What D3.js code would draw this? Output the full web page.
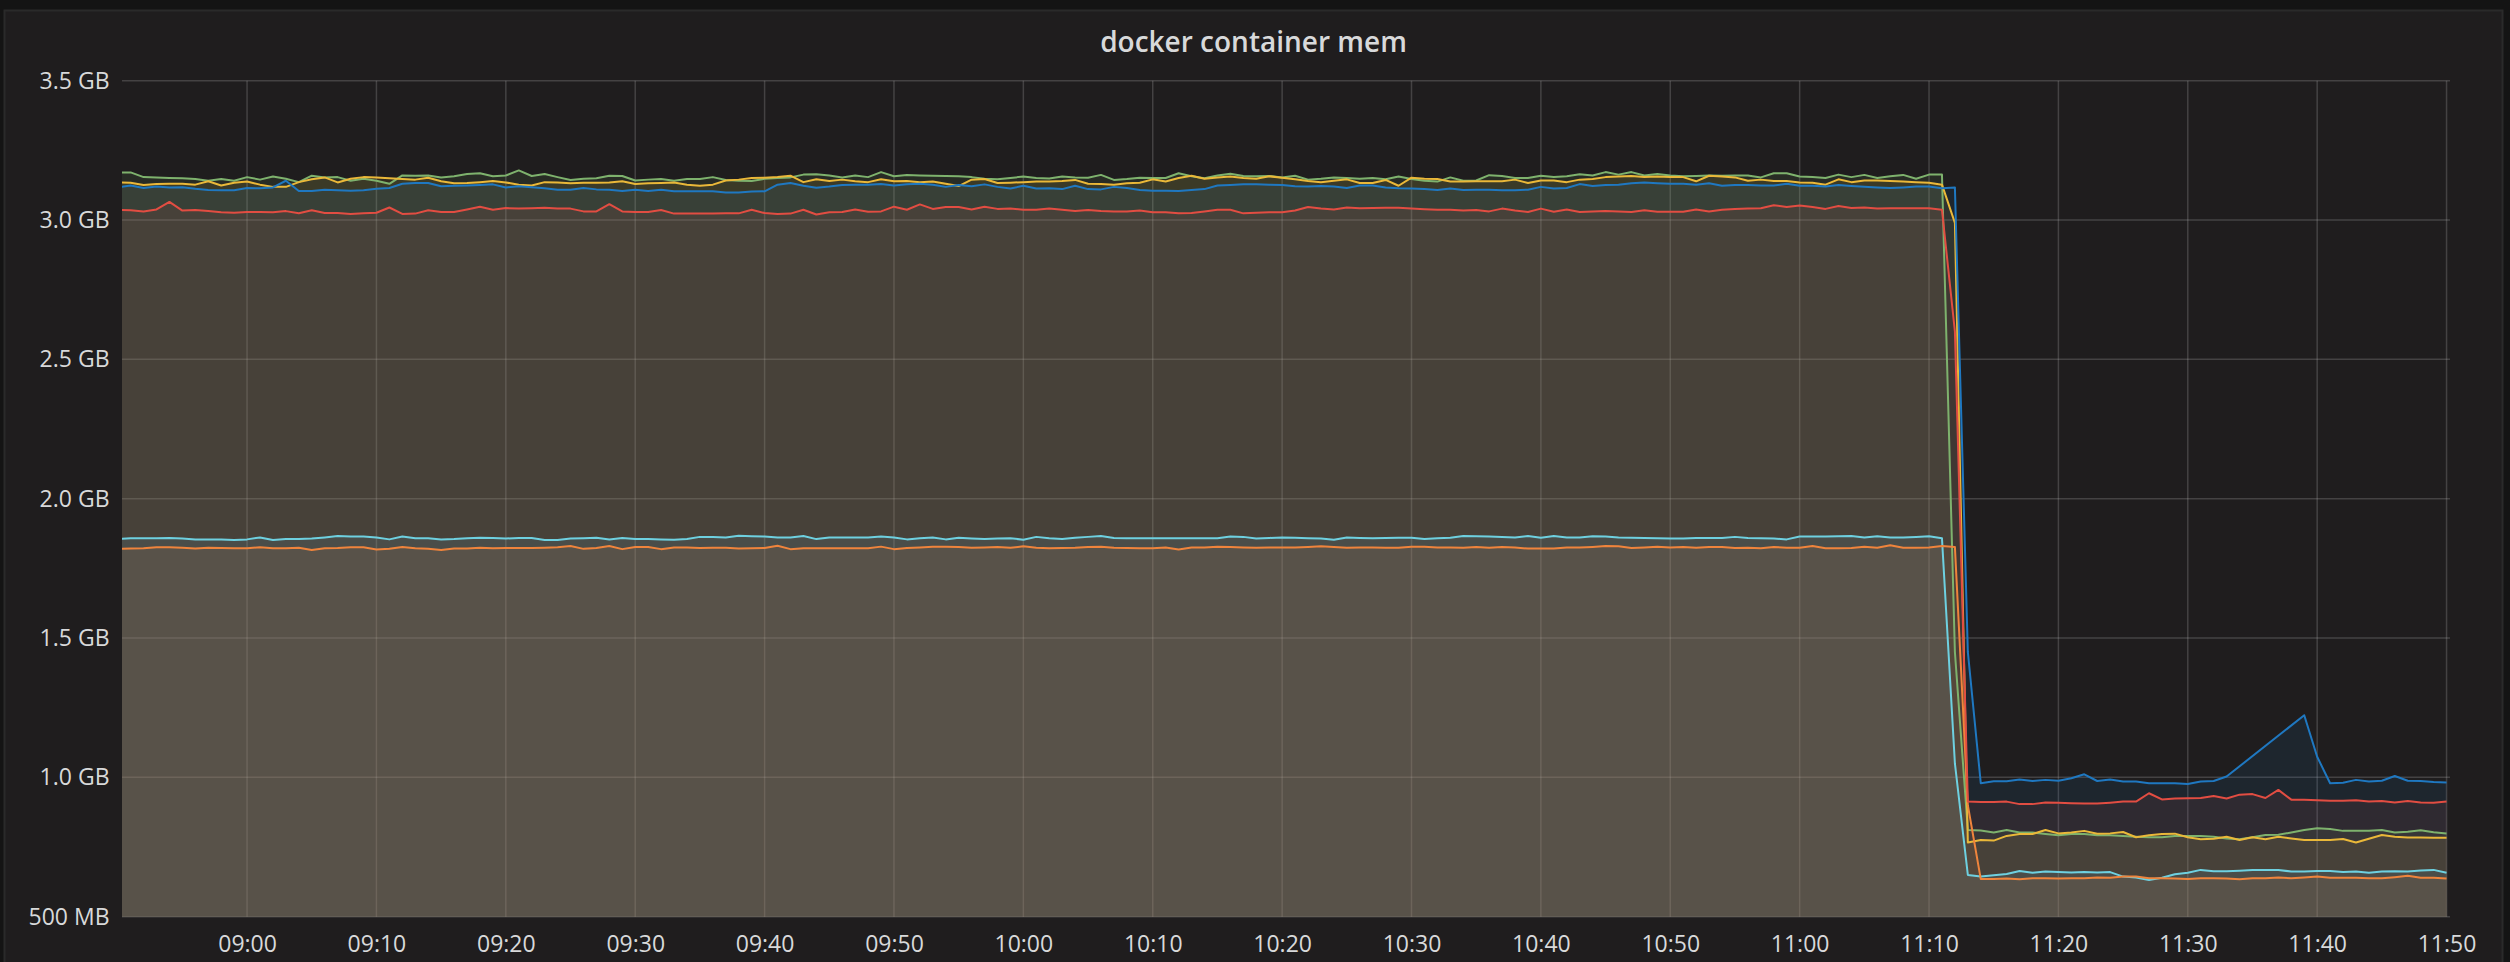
<!DOCTYPE html>
<html>
<head>
<meta charset="utf-8">
<script src="https://cdn.jsdelivr.net/npm/d3@7"></script>
<style>
  html, body { margin: 0; padding: 0; background: #141414; overflow: hidden; }
  svg { display: block; }
</style>
</head>
<body>
<svg id="chart" width="2510" height="962"></svg>
<script>
// ---------------- DATA (GB, one sample per minute from 08:50 to 11:50) ----------------
const chartTitle = "docker container mem";
const firstSample = "08:50";
const sampleStepMinutes = 1;
const viewStart = "08:50:20";
const viewEnd = "11:50:16";

const seriesNames = ["container-1", "container-2", "container-3", "container-4", "container-5", "container-6"];
const seriesColors = ["#7EB26D", "#EAB839", "#6ED0E0", "#EF843C", "#E24D42", "#1F78C1"];

const greenMem = [
  3.171, 3.171, 3.154, 3.153, 3.151, 3.150, 3.147, 3.141, 3.147, 3.141,
  3.154, 3.145, 3.156, 3.148, 3.136, 3.159, 3.153, 3.154, 3.141, 3.148,
  3.141, 3.130, 3.160, 3.159, 3.160, 3.153, 3.157, 3.165, 3.168, 3.157,
  3.160, 3.178, 3.158, 3.165, 3.154, 3.144, 3.148, 3.150,
  3.159, 3.158, 3.142, 3.145, 3.147, 3.141, 3.147, 3.147, 3.154, 3.144,
  3.141, 3.140, 3.148, 3.151, 3.153, 3.163, 3.164, 3.160, 3.153, 3.160,
  3.154, 3.172, 3.157, 3.162, 3.160, 3.159, 3.158, 3.157, 3.154, 3.148,
  3.146, 3.151, 3.156, 3.151, 3.149,
  3.156, 3.153, 3.152, 3.162, 3.144, 3.147, 3.152, 3.151, 3.151, 3.168,
  3.157, 3.150, 3.160, 3.166, 3.158, 3.157, 3.158, 3.153, 3.159, 3.145,
  3.148, 3.153, 3.151, 3.148, 3.151, 3.146, 3.156, 3.147, 3.141, 3.138,
  3.153, 3.141, 3.142, 3.161, 3.158,
  3.151, 3.151, 3.159, 3.154, 3.157, 3.164, 3.160, 3.172, 3.163, 3.172,
  3.160, 3.165, 3.160, 3.157, 3.158, 3.160, 3.159, 3.160, 3.160, 3.153,
  3.168, 3.168, 3.156, 3.154, 3.151, 3.163, 3.154, 3.162, 3.151, 3.157,
  3.162, 3.148, 3.163, 3.163,
  1.45,
  0.811, 0.809, 0.802, 0.811, 0.802, 0.802, 0.797, 0.792, 0.797, 0.797,
  0.792, 0.792, 0.790, 0.787, 0.785, 0.785, 0.790, 0.790, 0.790, 0.787,
  0.781, 0.778, 0.785, 0.793, 0.794, 0.802, 0.811, 0.817, 0.815, 0.808,
  0.808, 0.808, 0.811, 0.802, 0.805, 0.810, 0.803, 0.799
];

const yellowMem = [
  3.135, 3.134, 3.126, 3.129, 3.130, 3.130, 3.127, 3.139, 3.124, 3.134,
  3.138, 3.127, 3.119, 3.119, 3.136, 3.146, 3.153, 3.135, 3.148, 3.154,
  3.153, 3.150, 3.147, 3.145, 3.152, 3.139, 3.132, 3.133, 3.136, 3.140,
  3.135, 3.127, 3.124, 3.136, 3.135, 3.132, 3.134, 3.134,
  3.135, 3.139, 3.129, 3.132, 3.133, 3.135, 3.127, 3.123, 3.127, 3.142,
  3.145, 3.151, 3.152, 3.154, 3.159, 3.136, 3.146, 3.140, 3.145, 3.139,
  3.136, 3.146, 3.139, 3.140, 3.136, 3.138, 3.130, 3.122, 3.145, 3.147,
  3.133, 3.134, 3.136, 3.138, 3.138,
  3.140, 3.144, 3.130, 3.129, 3.127, 3.132, 3.134, 3.146, 3.138, 3.151,
  3.159, 3.148, 3.153, 3.156, 3.151, 3.148, 3.157, 3.152, 3.146, 3.140,
  3.136, 3.141, 3.146, 3.133, 3.133, 3.144, 3.123, 3.152, 3.148, 3.147,
  3.138, 3.138, 3.139, 3.139, 3.139,
  3.145, 3.133, 3.142, 3.142, 3.136, 3.145, 3.147, 3.154, 3.156, 3.158,
  3.154, 3.156, 3.154, 3.154, 3.139, 3.159, 3.156, 3.153, 3.141, 3.145,
  3.140, 3.140, 3.135, 3.134, 3.127, 3.146, 3.136, 3.142, 3.142, 3.140,
  3.138, 3.136, 3.134, 3.127,
  2.99,
  0.766, 0.775, 0.773, 0.790, 0.797, 0.797, 0.811, 0.799, 0.802, 0.808,
  0.798, 0.799, 0.804, 0.785, 0.792, 0.797, 0.798, 0.785, 0.778, 0.780,
  0.787, 0.775, 0.785, 0.778, 0.787, 0.781, 0.775, 0.775, 0.775, 0.779,
  0.766, 0.780, 0.793, 0.787, 0.784, 0.784, 0.783, 0.783
];

const cyanMem = [
  1.855, 1.858, 1.858, 1.858, 1.859, 1.857, 1.854, 1.854, 1.854, 1.852,
  1.854, 1.861, 1.852, 1.855, 1.855, 1.857, 1.861, 1.866, 1.864, 1.864,
  1.861, 1.854, 1.864, 1.858, 1.858, 1.854, 1.855, 1.858, 1.860, 1.859,
  1.857, 1.859, 1.859, 1.852, 1.852, 1.857, 1.858, 1.860,
  1.854, 1.859, 1.855, 1.855, 1.854, 1.853, 1.855, 1.863, 1.863, 1.861,
  1.867, 1.865, 1.864, 1.861, 1.861, 1.866, 1.855, 1.861, 1.861, 1.861,
  1.861, 1.864, 1.861, 1.854, 1.858, 1.861, 1.854, 1.860, 1.857, 1.855,
  1.857, 1.858, 1.853, 1.863, 1.858, 1.855, 1.860, 1.863, 1.866, 1.859,
  1.858, 1.858, 1.858, 1.858, 1.858, 1.858, 1.858, 1.858, 1.864, 1.863,
  1.857, 1.859,
  1.861, 1.860, 1.858, 1.857, 1.853, 1.861, 1.859, 1.858, 1.859, 1.860,
  1.860, 1.855, 1.858, 1.860, 1.866, 1.865, 1.864, 1.863, 1.861, 1.866,
  1.860, 1.866, 1.861, 1.861, 1.865, 1.864, 1.861, 1.860, 1.859, 1.858,
  1.857, 1.857, 1.859, 1.859, 1.859, 1.863, 1.859, 1.858, 1.857, 1.854,
  1.864, 1.864, 1.864, 1.865, 1.866, 1.861, 1.865, 1.861, 1.861, 1.863,
  1.865, 1.858,
  1.05,
  0.650, 0.644, 0.649, 0.653, 0.664, 0.658, 0.662, 0.660, 0.659, 0.660,
  0.659, 0.660, 0.644, 0.641, 0.632, 0.640, 0.652, 0.658, 0.668, 0.663,
  0.663, 0.665, 0.668, 0.668, 0.668, 0.662, 0.662, 0.664, 0.664, 0.660,
  0.662, 0.658, 0.662, 0.663, 0.662, 0.666, 0.668, 0.658
];

const orangeMem = [
  1.820, 1.821, 1.822, 1.826, 1.826, 1.824, 1.821, 1.824, 1.823, 1.822,
  1.822, 1.826, 1.822, 1.822, 1.824, 1.816, 1.822, 1.823, 1.826, 1.826,
  1.818, 1.820, 1.827, 1.822, 1.820, 1.816, 1.821, 1.821, 1.824, 1.822,
  1.823, 1.823, 1.823, 1.824, 1.826, 1.830, 1.820, 1.823,
  1.830, 1.819, 1.827, 1.827, 1.819, 1.825, 1.825, 1.823, 1.824, 1.824,
  1.821, 1.822, 1.823, 1.831, 1.819, 1.822, 1.822, 1.822, 1.822, 1.822,
  1.822, 1.828, 1.819, 1.823, 1.825, 1.828, 1.828, 1.827, 1.824, 1.825,
  1.827, 1.824, 1.829, 1.824, 1.822, 1.823, 1.824, 1.827, 1.828, 1.824,
  1.823, 1.822, 1.822, 1.825, 1.818, 1.825, 1.825, 1.828, 1.827, 1.825,
  1.824, 1.825,
  1.825, 1.825, 1.827, 1.829, 1.827, 1.824, 1.825, 1.825, 1.824, 1.824,
  1.828, 1.828, 1.825, 1.825, 1.824, 1.827, 1.824, 1.827, 1.825, 1.821,
  1.821, 1.821, 1.825, 1.825, 1.827, 1.830, 1.829, 1.823, 1.825, 1.828,
  1.825, 1.827, 1.824, 1.827, 1.827, 1.823, 1.824, 1.822, 1.827, 1.824,
  1.824, 1.830, 1.822, 1.822, 1.823, 1.828, 1.824, 1.833, 1.824, 1.824,
  1.825, 1.830, 1.827,
  0.90,
  0.635, 0.635, 0.637, 0.634, 0.638, 0.638, 0.637, 0.638, 0.638, 0.641,
  0.640, 0.644, 0.644, 0.638, 0.638, 0.637, 0.635, 0.638, 0.638, 0.637,
  0.634, 0.638, 0.638, 0.641, 0.638, 0.641, 0.644, 0.640, 0.640, 0.640,
  0.638, 0.638, 0.642, 0.647, 0.640, 0.640, 0.637
];

const redMem = [
  3.037, 3.035, 3.031, 3.038, 3.065, 3.034, 3.036, 3.032, 3.028, 3.026,
  3.029, 3.029, 3.028, 3.032, 3.024, 3.035, 3.025, 3.025, 3.022, 3.024,
  3.026, 3.045, 3.022, 3.023, 3.035, 3.029, 3.029, 3.038, 3.048, 3.037,
  3.043, 3.041, 3.042, 3.044, 3.041, 3.041, 3.031, 3.031,
  3.057, 3.031, 3.029, 3.029, 3.036, 3.023, 3.023, 3.023, 3.023, 3.024,
  3.024, 3.037, 3.025, 3.022, 3.023, 3.037, 3.020, 3.028, 3.029, 3.038,
  3.030, 3.031, 3.048, 3.037, 3.056, 3.040, 3.047, 3.047, 3.038, 3.048,
  3.040, 3.041, 3.037, 3.037, 3.041,
  3.037, 3.032, 3.036, 3.032, 3.031, 3.031, 3.034, 3.028, 3.028, 3.024,
  3.025, 3.031, 3.037, 3.037, 3.024, 3.026, 3.028, 3.028, 3.034, 3.047,
  3.041, 3.038, 3.045, 3.042, 3.043, 3.044, 3.044, 3.041, 3.039, 3.037,
  3.037, 3.034, 3.036, 3.031, 3.041,
  3.034, 3.029, 3.041, 3.030, 3.038, 3.029, 3.031, 3.032, 3.031, 3.029,
  3.035, 3.030, 3.030, 3.030, 3.038, 3.031, 3.037, 3.040, 3.041, 3.042,
  3.053, 3.047, 3.052, 3.047, 3.040, 3.050, 3.043, 3.045, 3.041, 3.042,
  3.042, 3.042, 3.042, 3.037,
  2.60,
  0.913, 0.912, 0.912, 0.913, 0.904, 0.904, 0.910, 0.909, 0.907, 0.906,
  0.906, 0.909, 0.913, 0.913, 0.943, 0.921, 0.924, 0.925, 0.926, 0.933,
  0.924, 0.938, 0.940, 0.926, 0.955, 0.920, 0.920, 0.918, 0.916, 0.916,
  0.918, 0.913, 0.915, 0.910, 0.915, 0.910, 0.909, 0.913
];

const blueMem = [
  3.117, 3.124, 3.115, 3.120, 3.117, 3.118, 3.112, 3.108, 3.107, 3.107,
  3.115, 3.114, 3.117, 3.141, 3.104, 3.104, 3.109, 3.107, 3.105, 3.107,
  3.112, 3.115, 3.130, 3.133, 3.133, 3.121, 3.123, 3.124, 3.126, 3.128,
  3.117, 3.121, 3.118, 3.114, 3.109, 3.109, 3.115, 3.110,
  3.109, 3.104, 3.109, 3.104, 3.109, 3.103, 3.103, 3.103, 3.103, 3.099,
  3.099, 3.102, 3.103, 3.127, 3.133, 3.123, 3.116, 3.120, 3.126, 3.127,
  3.127, 3.129, 3.124, 3.128, 3.130, 3.127, 3.119, 3.126, 3.121, 3.128,
  3.119, 3.113, 3.123, 3.113, 3.114,
  3.111, 3.123, 3.111, 3.110, 3.119, 3.115, 3.108, 3.105, 3.105, 3.104,
  3.108, 3.111, 3.124, 3.126, 3.128, 3.128, 3.127, 3.126, 3.121, 3.120,
  3.122, 3.120, 3.115, 3.124, 3.124, 3.117, 3.114, 3.113, 3.111, 3.108,
  3.113, 3.108, 3.109, 3.109, 3.107,
  3.107, 3.109, 3.119, 3.113, 3.115, 3.129, 3.122, 3.126, 3.127, 3.132,
  3.135, 3.132, 3.130, 3.130, 3.127, 3.132, 3.123, 3.126, 3.126, 3.124,
  3.124, 3.130, 3.123, 3.123, 3.120, 3.126, 3.122, 3.119, 3.117, 3.115,
  3.117, 3.120, 3.120, 3.114, 3.117,
  1.45,
  0.979, 0.986, 0.986, 0.992, 0.987, 0.991, 0.988, 0.997, 1.011, 0.987,
  0.992, 0.985, 0.985, 0.979, 0.979, 0.979, 0.976, 0.985, 0.987, 1.003,
  null, null, null, null, null, 1.223, 1.074, 0.979, 0.981, 0.991,
  0.985, 0.988, 1.005, 0.988, 0.987, 0.983, 0.982
];

const yTickValues = [0.5, 1.0, 1.5, 2.0, 2.5, 3.0, 3.5];
const yTickLabels = ["500 MB", "1.0 GB", "1.5 GB", "2.0 GB", "2.5 GB", "3.0 GB", "3.5 GB"];
const xTickLabels = ["09:00", "09:10", "09:20", "09:30", "09:40", "09:50", "10:00", "10:10", "10:20",
                     "10:30", "10:40", "10:50", "11:00", "11:10", "11:20", "11:30", "11:40", "11:50"];

// ---------------- LAYOUT ----------------
const W = 2510, H = 962;
const plot = { left: 122, right: 2450, top: 80.7, bottom: 916.7 };
const textColor = "#d8d9da";
const gridColor = "rgba(200,200,200,0.22)";
const day = "2017-01-01 ";
const parseT = d3.timeParse("%Y-%m-%d %H:%M:%S");
const parseHM = s => parseT(day + s + ":00");

const allSeries = [greenMem, yellowMem, cyanMem, orangeMem, redMem, blueMem];
const t0 = parseHM(firstSample);

const x = d3.scaleTime()
  .domain([parseT(day + viewStart), parseT(day + viewEnd)])
  .range([plot.left, plot.right]);
const y = d3.scaleLinear()
  .domain([yTickValues[0], yTickValues[yTickValues.length - 1]])
  .range([plot.bottom, plot.top]);

const svg = d3.select("#chart");

// panel
svg.append("rect").attr("x", 0).attr("y", 0).attr("width", W).attr("height", H).attr("fill", "#141414");
svg.append("rect")
  .attr("x", 4.5).attr("y", 10.5).attr("width", 2498).attr("height", H)
  .attr("fill", "#1f1d1e").attr("stroke", "#2a2a2a").attr("stroke-width", 2);

// title
svg.append("text")
  .attr("x", 1253.5).attr("y", 52)
  .attr("text-anchor", "middle")
  .attr("font-family", "'Open Sans', sans-serif")
  .attr("font-size", 28).attr("font-weight", 600)
  .attr("fill", textColor)
  .text(chartTitle);

// clip
svg.append("defs").append("clipPath").attr("id", "plotClip")
  .append("rect")
  .attr("x", plot.left).attr("y", plot.top)
  .attr("width", plot.right - plot.left).attr("height", plot.bottom - plot.top);

// grid
const xTickDates = xTickLabels.map(parseHM);
const grid = svg.append("g");
grid.selectAll(".hg").data(yTickValues).join("line")
  .attr("x1", plot.left).attr("x2", plot.right)
  .attr("y1", d => y(d)).attr("y2", d => y(d))
  .attr("stroke", gridColor).attr("stroke-width", 1.5);
grid.selectAll(".vg").data(xTickDates).join("line")
  .attr("x1", d => x(d)).attr("x2", d => x(d))
  .attr("y1", plot.top).attr("y2", plot.bottom)
  .attr("stroke", gridColor).attr("stroke-width", 1.5);

// series
const seriesData = allSeries.map(arr => arr
  .map((v, i) => ({ t: d3.timeMinute.offset(t0, i * sampleStepMinutes), v }))
  .filter(d => d.v !== null));

const area = d3.area()
  .x(d => x(d.t)).y0(y(0)).y1(d => y(d.v));
const line = d3.line()
  .x(d => x(d.t)).y(d => y(d.v));

const dataG = svg.append("g").attr("clip-path", "url(#plotClip)");
seriesData.forEach((data, i) => {
  dataG.append("path").datum(data)
    .attr("d", area)
    .attr("fill", seriesColors[i]).attr("fill-opacity", 0.1);
});
seriesData.forEach((data, i) => {
  dataG.append("path").datum(data)
    .attr("d", line)
    .attr("fill", "none")
    .attr("stroke", seriesColors[i]).attr("stroke-width", 2)
    .attr("stroke-linejoin", "round");
});

// axes
const yAxis = d3.axisLeft(y)
  .tickValues(yTickValues)
  .tickFormat((d, i) => yTickLabels[i])
  .tickSize(0).tickPadding(12.5);
const yg = svg.append("g").attr("transform", `translate(${plot.left},0)`).call(yAxis);

const xAxis = d3.axisBottom(x)
  .tickValues(xTickDates)
  .tickFormat((d, i) => xTickLabels[i])
  .tickSize(0).tickPadding(18.7);
const xg = svg.append("g").attr("transform", `translate(0,${plot.bottom})`).call(xAxis);

[yg, xg].forEach(g => {
  g.select(".domain").remove();
  g.selectAll("text")
    .attr("font-family", "'Open Sans', sans-serif")
    .attr("font-size", 23)
    .attr("fill", textColor);
});
</script>
</body>
</html>
